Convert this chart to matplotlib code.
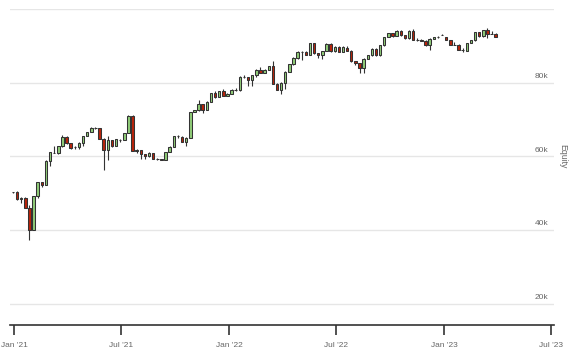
import matplotlib
matplotlib.use("Agg")
import matplotlib.pyplot as plt
import matplotlib.dates as mdates
import pandas as pd

plt.rcParams['font.family'] = ['Liberation Sans', 'DejaVu Sans']

# weekly equity candles, values in thousands
opens = [50.2, 50.2, 48.3, 48.8, 46.1, 40.0, 49.1, 52.9, 52.3, 58.8,
         61.0, 60.8, 62.7, 65.2, 63.5, 62.4, 62.4, 63.7, 65.5, 66.6,
         67.7, 67.6, 64.8, 61.8, 64.3, 62.9, 64.5, 64.4, 66.3, 71.0,
         61.5, 61.6, 60.6, 60.0, 60.9, 59.3, 59.2, 59.1, 61.2, 62.5,
         65.5, 65.3, 63.9, 65.0, 72.0, 72.5, 74.1, 72.6, 74.8, 77.3,
         76.1, 77.6, 76.4, 77.0, 78.0, 77.9, 81.6, 81.5, 80.7, 82.0,
         83.5, 82.7, 83.5, 84.4, 79.7, 78.0, 80.0, 83.0, 85.1, 86.8,
         88.4, 88.4, 87.6, 90.8, 88.0, 87.5, 88.6, 90.6, 88.5, 89.8,
         88.3, 89.5, 88.7, 85.8, 85.3, 83.9, 86.5, 87.4, 89.2, 87.4,
         90.1, 92.4, 93.5, 92.8, 94.1, 92.9, 92.0, 94.1, 91.7, 91.7,
         91.4, 90.1, 91.9, 92.4, 93.0, 92.4, 91.5, 90.3, 90.3, 88.8,
         88.6, 90.8, 91.5, 93.7, 92.6, 94.2, 93.3, 93.3]
closes = [50.2, 48.3, 48.8, 46.1, 40.0, 49.1, 52.9, 52.2, 58.8, 61.1,
          61.0, 62.7, 65.2, 63.5, 62.2, 62.4, 63.7, 65.5, 66.6, 67.6,
          67.7, 64.8, 61.8, 64.4, 62.9, 64.6, 64.4, 66.3, 71.0, 61.5,
          61.6, 60.5, 60.0, 61.0, 59.3, 59.2, 59.1, 61.2, 62.5, 65.4,
          65.5, 63.9, 65.1, 72.0, 72.6, 74.1, 72.6, 74.8, 77.2, 76.0,
          77.6, 76.4, 77.0, 78.1, 78.0, 81.6, 81.6, 80.7, 82.0, 83.5,
          82.7, 83.5, 84.4, 79.7, 78.0, 80.0, 83.0, 85.1, 86.8, 88.4,
          88.4, 87.6, 90.8, 88.0, 87.5, 88.6, 90.6, 88.5, 89.8, 88.3,
          89.6, 88.6, 85.8, 85.3, 83.9, 86.5, 87.4, 89.2, 87.4, 90.1,
          92.4, 93.5, 92.6, 94.1, 92.9, 92.0, 94.1, 91.7, 91.7, 91.4,
          90.1, 91.9, 92.4, 92.4, 93.0, 91.7, 90.3, 90.3, 89.0, 88.8,
          90.8, 91.5, 93.7, 92.6, 94.2, 93.1, 93.3, 92.4]
highs = [50.3, 50.5, 48.9, 48.9, 46.9, 49.1, 53.0, 53.0, 58.9, 61.2,
         62.7, 62.8, 65.7, 65.6, 63.6, 62.7, 64.0, 65.6, 66.7, 67.9,
         67.9, 67.7, 64.9, 65.6, 64.5, 64.7, 64.8, 66.4, 71.1, 71.2,
         61.9, 61.7, 60.7, 61.1, 61.0, 59.6, 59.3, 61.3, 62.7, 65.5,
         65.9, 65.4, 65.2, 72.1, 72.7, 75.2, 74.2, 74.9, 77.3, 77.6,
         77.7, 78.2, 77.1, 78.2, 78.5, 81.7, 82.2, 81.6, 82.1, 83.6,
         84.3, 83.6, 84.5, 85.8, 79.8, 80.1, 83.1, 85.2, 86.9, 88.5,
         88.5, 88.5, 90.9, 90.9, 88.1, 88.7, 90.7, 90.7, 89.9, 89.9,
         89.9, 89.9, 88.8, 85.9, 85.4, 86.6, 87.5, 89.3, 89.3, 90.2,
         92.5, 93.6, 93.6, 94.2, 94.2, 93.0, 94.2, 94.6, 92.2, 91.8,
         91.5, 92.0, 92.5, 92.8, 93.3, 92.5, 91.6, 91.1, 90.4, 89.3,
         90.9, 91.6, 93.8, 93.8, 94.3, 94.8, 94.0, 93.4]
lows = [50.1, 48.2, 47.3, 46.0, 37.2, 40.0, 48.8, 51.7, 52.2, 57.4,
        60.9, 60.7, 62.6, 63.4, 62.1, 61.9, 61.9, 62.7, 65.4, 66.5,
        67.5, 64.7, 56.3, 59.1, 62.5, 62.8, 63.9, 64.3, 66.2, 61.4,
        60.9, 59.3, 59.4, 59.9, 59.2, 59.1, 59.0, 59.0, 61.1, 62.4,
        65.1, 63.8, 62.9, 64.9, 71.9, 72.4, 71.8, 72.5, 74.7, 75.9,
        76.0, 76.3, 76.3, 76.9, 77.6, 77.8, 81.2, 79.1, 79.1, 81.5,
        82.6, 82.6, 83.4, 79.6, 77.9, 76.9, 78.4, 82.9, 84.9, 86.5,
        86.2, 87.5, 87.5, 87.9, 86.6, 86.4, 88.5, 88.4, 88.4, 88.2,
        88.2, 88.5, 85.7, 84.8, 82.7, 82.6, 86.4, 87.3, 87.3, 87.3,
        90.0, 92.3, 92.5, 92.7, 92.8, 91.9, 91.9, 91.6, 91.2, 91.2,
        90.0, 88.8, 91.8, 92.0, 93.0, 91.6, 90.2, 90.3, 88.9, 88.3,
        88.5, 90.7, 91.4, 92.5, 92.5, 92.2, 93.3, 92.3]

dates = pd.date_range('2020-12-30', periods=len(closes), freq='7D')
ytick_vals = [20, 40, 60, 80]

up_color = '#8fcb78'
down_color = '#b8240c'
edge = '#333333'

fig = plt.figure(figsize=(5.8, 3.6), dpi=100)
ax = fig.add_axes([10 / 580, 1 - 325 / 360, 544 / 580, 316 / 360])

# wicks
ax.vlines(dates, lows, highs, color=edge, linewidth=0.8, zorder=2)

# bodies
bottoms = [min(o, c) for o, c in zip(opens, closes)]
heights = [abs(c - o) for o, c in zip(opens, closes)]
colors = [up_color if c >= o else down_color for o, c in zip(opens, closes)]
ax.bar(dates, heights, bottom=bottoms, width=4.2, color=colors,
       edgecolor=edge, linewidth=0.75, zorder=3)

ax.set_xlim(pd.Timestamp('2020-12-25'), pd.Timestamp('2023-07-06'))
ax.set_ylim(14.2, 100)

ax.set_yticks(ytick_vals + [100])
ax.yaxis.grid(True, color='#e6e6e6', linewidth=1)
ax.set_axisbelow(True)
ax.tick_params(axis='y', length=0, labelleft=False)
for v in ytick_vals:
    ax.annotate(f'{v}k', xy=(0.99, v), xycoords=ax.get_yaxis_transform(),
                xytext=(0, 2), textcoords='offset points',
                ha='right', va='bottom', fontsize=6, color='#666666')

ax.xaxis.set_major_locator(mdates.MonthLocator(bymonth=[1, 7]))
ax.xaxis.set_major_formatter(mdates.DateFormatter("%b '%y"))
ax.tick_params(axis='x', direction='out', length=7.5, width=1.2,
               color='#333333', labelsize=6, labelcolor='#666666', pad=5)

for s in ['top', 'right', 'left']:
    ax.spines[s].set_visible(False)
ax.spines['bottom'].set_color('#333333')
ax.spines['bottom'].set_linewidth(1.2)

fig.text(563 / 580, 1 - 156 / 360, 'Equity', rotation=270, ha='center',
         va='center', fontsize=6.3, color='#666666')

fig.savefig('out.png', dpi=100)
